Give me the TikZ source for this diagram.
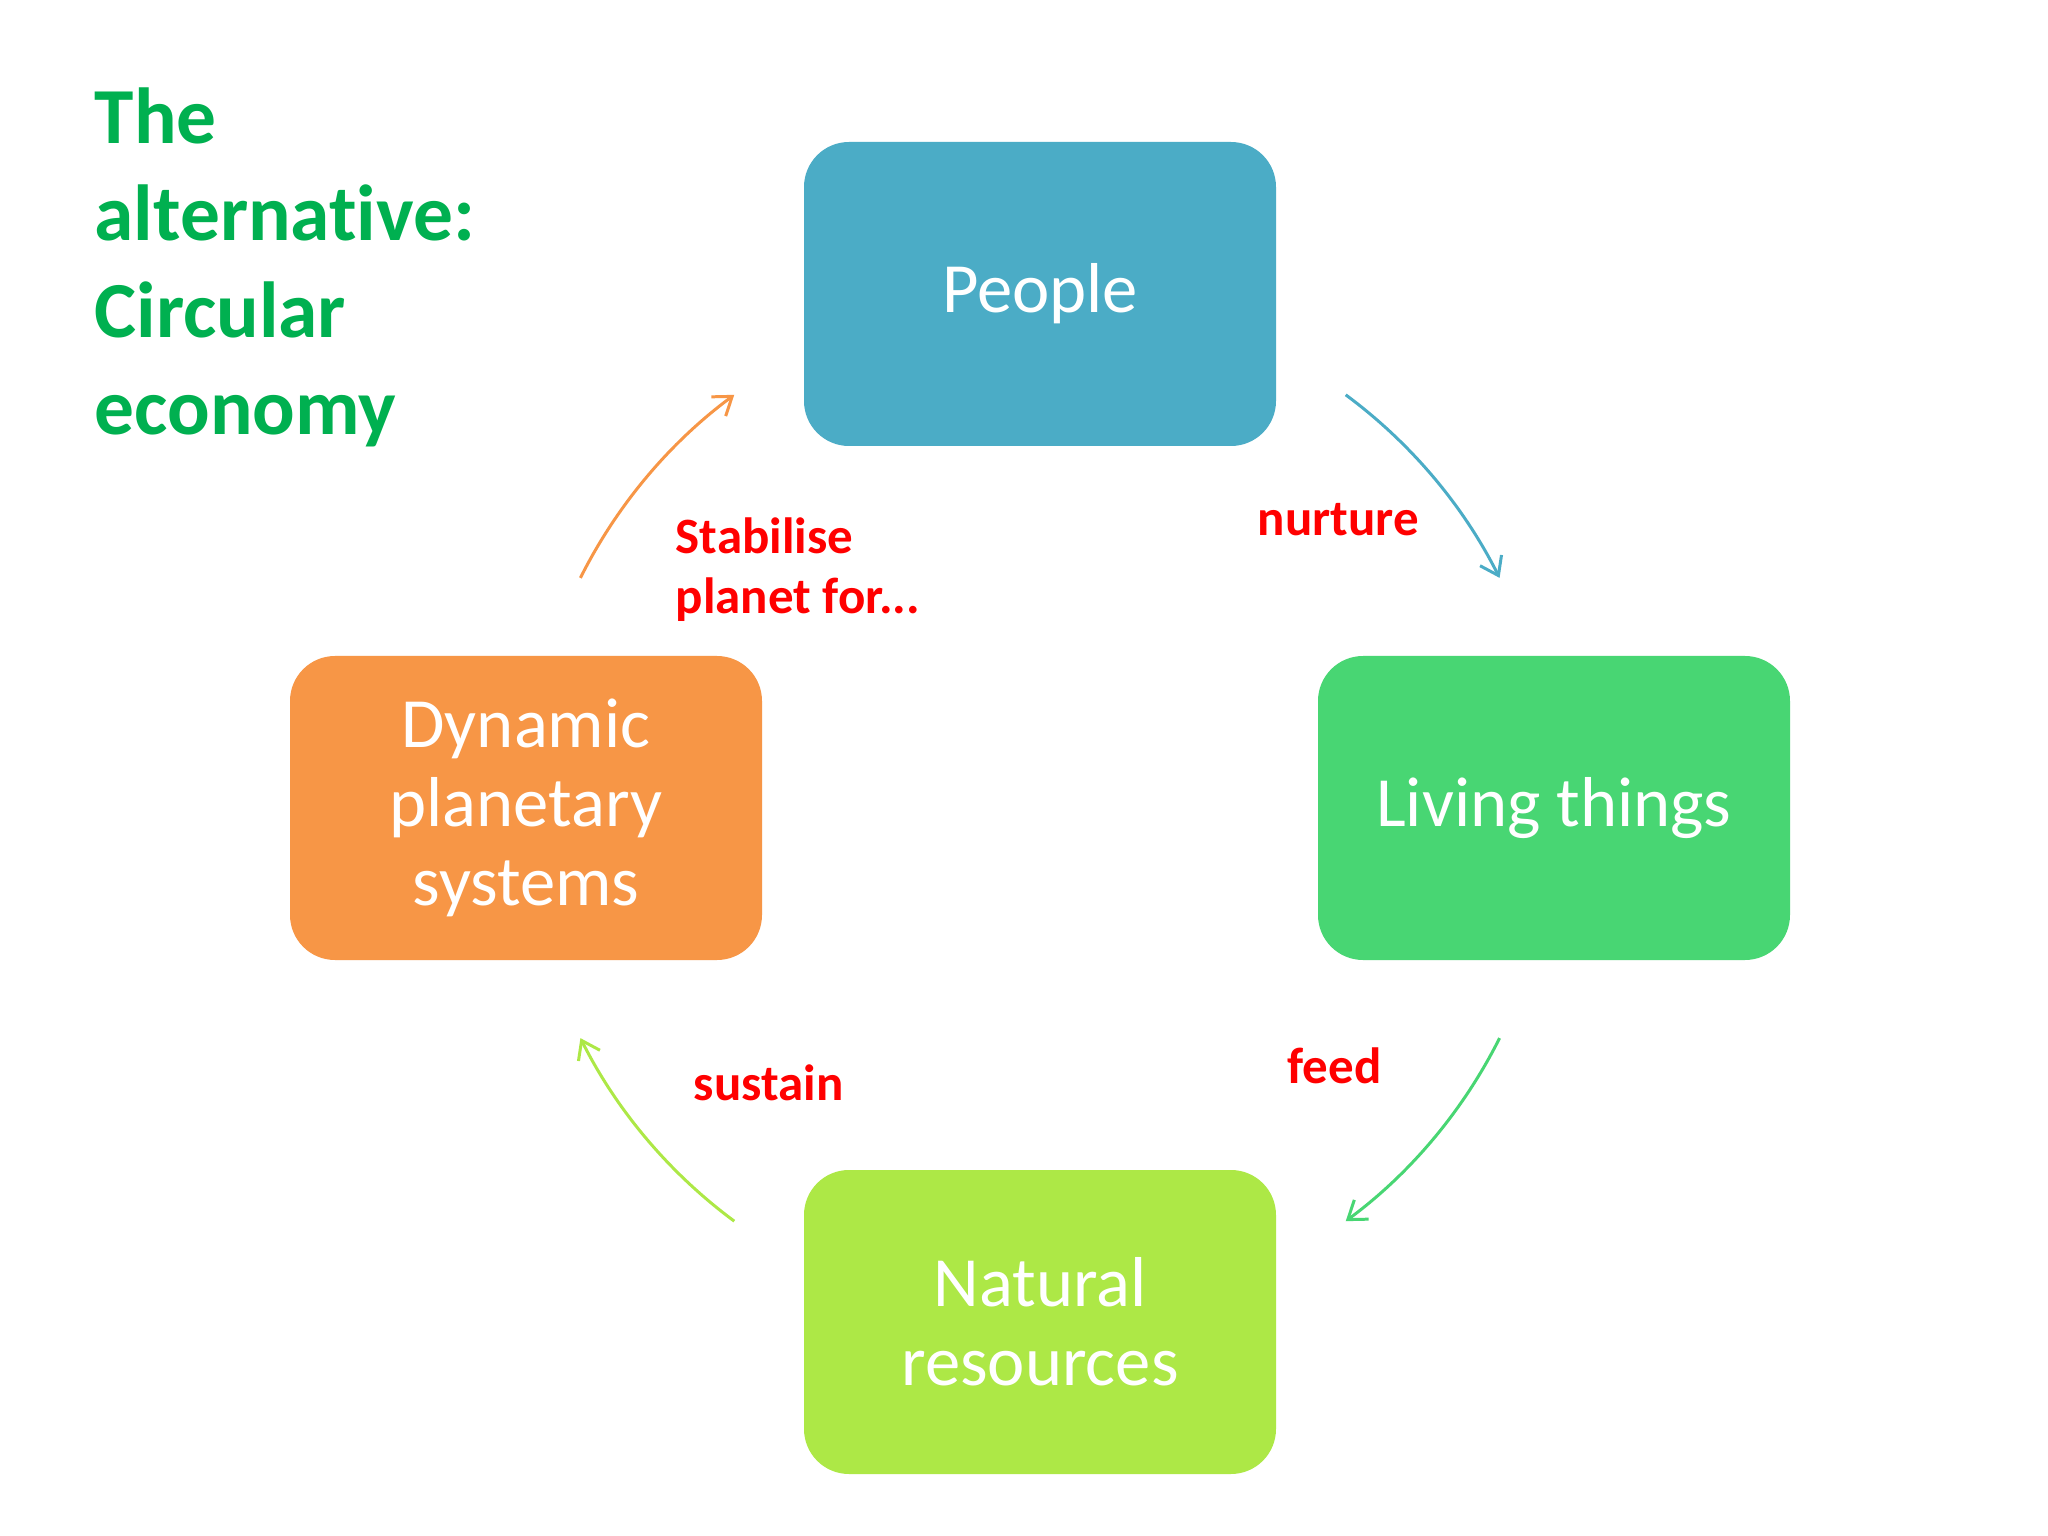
\documentclass[tikz,border=0pt]{standalone}
\usepackage{fontspec}
\setmainfont[Ligatures={NoCommon,NoRare,NoContextual},Contextuals=NoAlternate,RawFeature=-dlig]{Carlito}
\usetikzlibrary{arrows.meta,calc}
\definecolor{cpeople}{RGB}{75,172,198}
\definecolor{cliving}{RGB}{72,214,115}
\definecolor{cnatural}{RGB}{173,232,70}
\definecolor{cdynamic}{RGB}{247,150,70}
\definecolor{ctitle}{RGB}{0,176,80}
\definecolor{clabel}{RGB}{255,0,0}
\tikzset{
  box/.style={rounded corners=0.45cm, minimum width=4.72cm, minimum height=3.04cm,
    text=white, align=center, inner sep=0pt,
    font=\fontsize{20.1}{22.4}\selectfont},
  cyc/.style={line width=0.85pt, -{Straight Barb[length=0.17cm,width=0.24cm]}},
  lbl/.style={text=clabel, inner sep=0pt, font=\fontsize{14.5}{17}\selectfont\bfseries},
}
\begin{document}
\begin{tikzpicture}
\useasboundingbox[fill=white] (0,0) rectangle (20.48,-15.36);
% title
\node[anchor=north west, inner sep=0pt, align=left, text=ctitle,
  font=\fontsize{22.6}{27.6}\selectfont\bfseries] (title) at (0.94,-0.87)
  {The\\alternat\kern0pt ive:\\Circular\\economy};
% boxes
\node[box, fill=cpeople] (people) at (10.40,-2.94) {People};
\node[box, fill=cliving] (living) at (15.54,-8.08) {Living things};
\node[box, fill=cnatural] (natural) at (10.40,-13.22) {Natural\\resources};
\node[box, fill=cdynamic] (dynamic) at (5.26,-8.08) {Dynamic\\planetary\\systems};
% cycle arrows
\coordinate (ctr) at (10.40,-8.08);
\coordinate (s1) at ($(ctr)+(53.5:5.14)$);
\coordinate (s2) at ($(ctr)+(-26.6:5.14)$);
\coordinate (s3) at ($(ctr)+(-126.5:5.14)$);
\coordinate (s4) at ($(ctr)+(153.4:5.14)$);
\draw[cyc, cpeople] (s1) arc[start angle=53.5, end angle=26.6, radius=5.14];
\draw[cyc, cliving] (s2) arc[start angle=-26.6, end angle=-53.5, radius=5.14];
\draw[cyc, cnatural] (s3) arc[start angle=-126.5, end angle=-153.4, radius=5.14];
\draw[cyc, cdynamic] (s4) arc[start angle=153.4, end angle=126.5, radius=5.14];
% labels
\node[lbl, anchor=base west] (nurture) at (12.57,-5.35) {nurture};
\node[lbl, anchor=base west] (feed) at (12.87,-10.84) {feed};
\node[lbl, anchor=base west] (sustain) at (6.93,-11.00) {sustain};
\node[lbl, anchor=north west, align=left] (stab) at (6.75,-5.17) {Stabilise\\planet for...};
\end{tikzpicture}
\end{document}
